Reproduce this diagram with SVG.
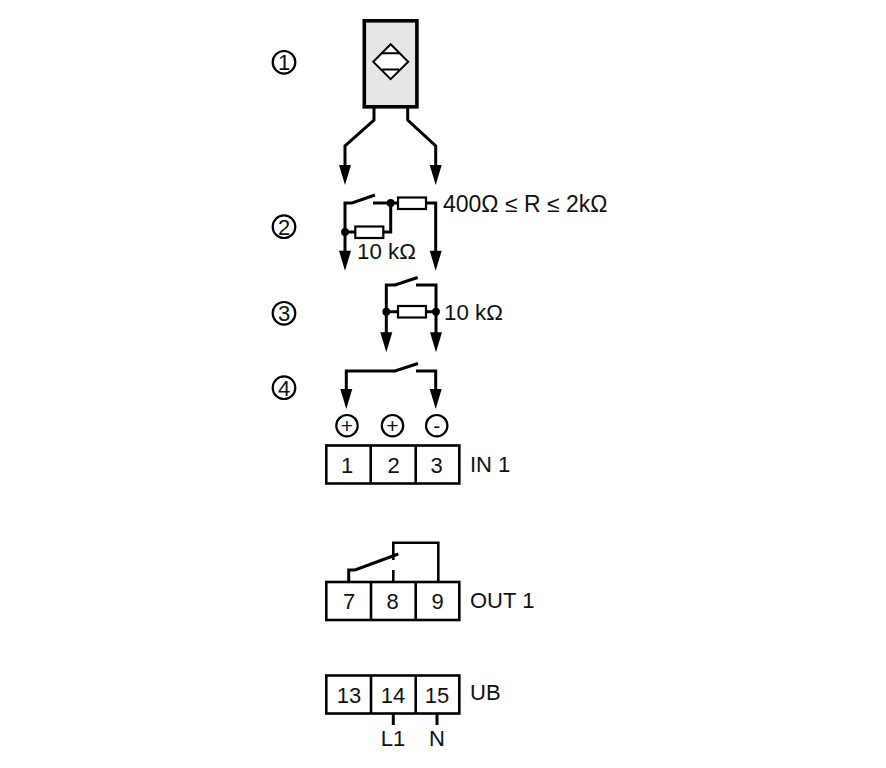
<svg xmlns="http://www.w3.org/2000/svg" width="886" height="768" viewBox="0 0 886 768">
<style>
text{font-family:"Liberation Sans",Arial,sans-serif;font-size:22px;fill:#111}
.m{text-anchor:middle}
.w{fill:none;stroke:#000;stroke-width:3}
.t{fill:none;stroke:#000;stroke-width:2.6}
.r{fill:#fff;stroke:#000;stroke-width:2.2}
.c{fill:#fff;stroke:#000;stroke-width:2.2}
.box{fill:#fff;stroke:#000;stroke-width:2.6}
.d{fill:#000}
.a{fill:#000}
.p{font-size:21px}
.l{font-size:23px}
.k{font-size:22.3px}
</style>
<defs>
<path id="arrow" class="a" d="M-6 -20H6L0 0Z"/>
</defs>
<rect width="886" height="768" fill="#fff"/>
<g id="connectors">
<path class="w" d="M374 108V120L345 146V168M407.7 108V120L435.7 146V168"/>
<path class="w" d="M345 255V203H352L375 195M373 203H398M426 203H435.7V255M345 232H355M383 232H390.7V203"/>
<path class="w" d="M386.3 336V285H395L417.7 277.5M416 285H436V336M386.3 311.7H398M426 311.7H436"/>
<path class="w" d="M346.3 392V371H395L418 363.5M416 371H435.7V392"/>
<path class="w" d="M348.7 581V570H355L398.3 554"/>
<path class="t" d="M393.3 581V570M393.3 560V542.7H438.3V581"/>
<path class="w" d="M393.3 714V725M437 714V725"/>
<use href="#arrow" x="345" y="185"/><use href="#arrow" x="435.7" y="185"/>
<use href="#arrow" x="345" y="270.7"/><use href="#arrow" x="435.7" y="270.7"/>
<use href="#arrow" x="386.3" y="352.3"/><use href="#arrow" x="436" y="352.3"/>
<use href="#arrow" x="346.3" y="409"/><use href="#arrow" x="435.7" y="409"/>
<circle class="d" cx="390.7" cy="203" r="3.9"/><circle class="d" cx="345" cy="232" r="3.9"/>
<circle class="d" cx="386.3" cy="311.7" r="3.9"/><circle class="d" cx="436" cy="311.7" r="3.9"/>
</g>
<g id="sensor">
<rect x="364.3" y="20.8" width="52.6" height="86" fill="#e6e6e6" stroke="#000" stroke-width="3.6"/>
<path fill="#fff" stroke="#000" stroke-width="2" d="M390.7 44.2L408.2 61.7L390.7 79.2L373.2 61.7ZM382.3 53.3H399.1M382.3 69.6H399.1"/>
</g>
<g id="res-400"><rect class="r" x="398" y="197.5" width="28" height="11.5"/><text class="l" x="443" y="212">400Ω ≤ R ≤ 2kΩ</text></g>
<g id="res-10k-a"><rect class="r" x="355.3" y="226.5" width="28" height="11.5"/><text class="k" x="357" y="259">10 kΩ</text></g>
<g id="res-10k-b"><rect class="r" x="398" y="306" width="28" height="11.5"/><text class="k" x="444" y="320">10 kΩ</text></g>
<g id="mark-1"><circle class="c" cx="284" cy="62.3" r="11.3"/><text class="m" x="284" y="70">1</text></g>
<g id="mark-2"><circle class="c" cx="284" cy="226.7" r="11.3"/><text class="m" x="284" y="234.5">2</text></g>
<g id="mark-3"><circle class="c" cx="284" cy="313.3" r="11.3"/><text class="m" x="284" y="321">3</text></g>
<g id="mark-4"><circle class="c" cx="284" cy="387.7" r="11.3"/><text class="m" x="284" y="395.5">4</text></g>
<g id="pol-1"><circle class="c" cx="347" cy="425.7" r="10.7"/><text class="m p" x="347" y="433">+</text></g>
<g id="pol-2"><circle class="c" cx="392.5" cy="425.7" r="10.7"/><text class="m p" x="392.5" y="433">+</text></g>
<g id="pol-3"><circle class="c" cx="436.7" cy="425.7" r="10.7"/><text class="m p" x="436.7" y="433">-</text></g>
<g id="in1">
<rect class="box" x="326.3" y="445.5" width="133" height="38"/><path class="box" d="M370.7 445.5V483.5M415.7 445.5V483.5"/>
<text class="m" x="347" y="472.5">1</text><text class="m" x="393.5" y="472.5">2</text><text class="m" x="436.5" y="472.5">3</text>
<text x="470" y="472">IN 1</text>
</g>
<g id="out1">
<rect class="box" x="326.3" y="582" width="133" height="38"/><path class="box" d="M371 582V620M415.7 582V620"/>
<text class="m" x="349" y="609">7</text><text class="m" x="392.5" y="609">8</text><text class="m" x="437.5" y="609">9</text>
<text x="470" y="608">OUT 1</text>
</g>
<g id="ub">
<rect class="box" x="326.3" y="675.5" width="133" height="38"/><path class="box" d="M371 675.5V713.5M415.7 675.5V713.5"/>
<text class="m" x="349" y="702.5">13</text><text class="m" x="393" y="702.5">14</text><text class="m" x="437" y="702.5">15</text>
<text x="470" y="700">UB</text>
<text class="m" x="393" y="746">L1</text><text class="m" x="437" y="746">N</text>
</g>
</svg>
